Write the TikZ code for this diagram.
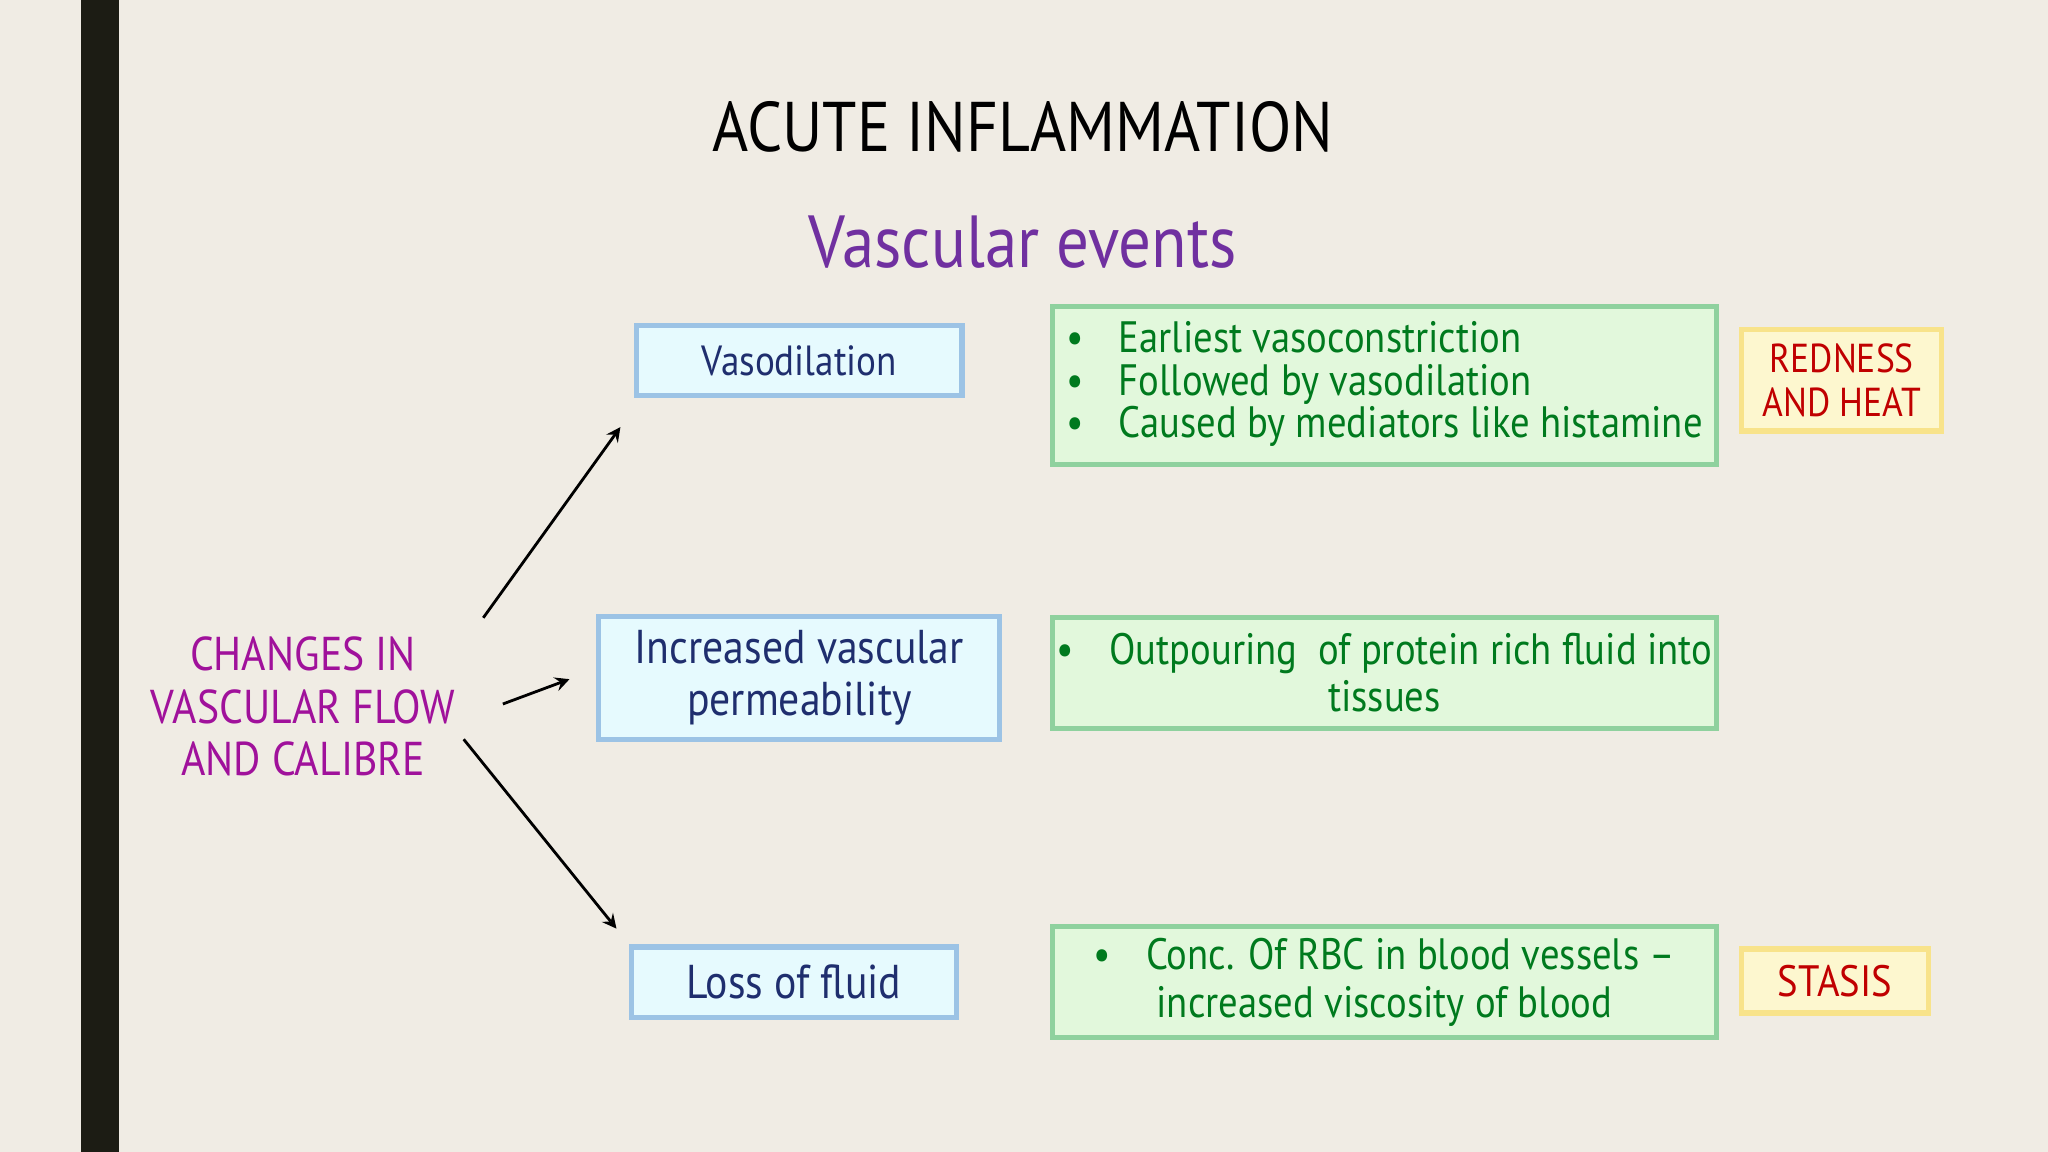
\documentclass[tikz,border=0pt]{standalone}
\usepackage{fontspec}
\setmainfont{PT Sans}[FakeStretch=0.88]
\usetikzlibrary{positioning}
\definecolor{mbg}{HTML}{F0ECE4}
\definecolor{mbar}{HTML}{1C1C14}
\definecolor{mpurp}{HTML}{7030A0}
\definecolor{mmag}{HTML}{A0119B}
\definecolor{mnavy}{HTML}{1F2E6E}
\definecolor{mbluef}{HTML}{E6FAFE}
\definecolor{mblued}{HTML}{9CC3E5}
\definecolor{mgreenf}{HTML}{E2F8DC}
\definecolor{mgreend}{HTML}{8FD19E}
\definecolor{mgreent}{HTML}{007A1E}
\definecolor{myellf}{HTML}{FDF7CF}
\definecolor{myelld}{HTML}{F8E38A}
\definecolor{mred}{HTML}{C00000}
\tikzset{
  event/.style = {rectangle, draw=mblued, line width=1.5pt, fill=mbluef, text=mnavy, align=center, inner sep=0pt},
  detail/.style = {rectangle, draw=mgreend, line width=1.5pt, fill=mgreenf, text=mgreent, align=left, inner sep=0pt, minimum width=508*0.01306cm, font=\fontsize{12.5}{13.5}\selectfont},
  sign/.style = {rectangle, draw=myelld, line width=1.5pt, fill=myellf, text=mred, align=left, inner sep=0pt, font=\fontsize{11.5}{12.5}\selectfont},
  link/.style = {thick, ->, >=stealth}
}
\begin{document}
\begin{tikzpicture}[x=0.01306cm, y=-0.01306cm]
  \fill[mbg] (0,0) rectangle (1568,882);
  \useasboundingbox (0,0) rectangle (1568,882);
  \fill[mbar] (62,0) rectangle (91,882);
  \node (title) at (783,97) {\fontsize{20}{24}\selectfont ACUTE INFLAMMATION};
  \node (sub) [text=mpurp] at (783,185) {\fontsize{21}{24}\selectfont Vascular events};
  \node (cause) [text=mmag, align=center, font=\fontsize{13.5}{15}\selectfont] at (232,541) {CHANGES IN\\VASCULAR FLOW\\AND CALIBRE};
  % middle column
  \node (vaso) [event, minimum width=249*0.01306cm, minimum height=54*0.01306cm, font=\fontsize{12}{14}\selectfont] at (612,276) {Vasodilation};
  \node (perm) [event, minimum width=307*0.01306cm, minimum height=94*0.01306cm, font=\fontsize{13.5}{15}\selectfont] at (612,519) {Increased vascular\\permeability};
  \node (loss) [event, minimum width=249*0.01306cm, minimum height=54*0.01306cm, font=\fontsize{13.5}{15}\selectfont] at (608,752) {Loss of fluid};
  % details
  \node (d1) [detail, minimum height=121*0.01306cm] at (1060,295) {\renewcommand{\arraystretch}{0.8}\begin{tabular}{@{}l@{\hspace{0.35cm}}l@{}}
    • & Earliest vasoconstriction\\ • & Followed by vasodilation\\ • & Caused by mediators like histamine\end{tabular}};
  \node (d2) [detail, minimum height=85*0.01306cm, align=center] at (1060,515) {•\hspace{0.35cm}Outpouring\ \ of protein rich fluid into\\tissues};
  \node (d3) [detail, minimum height=85*0.01306cm, align=center] at (1060,752) {•\hspace{0.35cm}Conc. Of RBC in blood vessels –\\increased viscosity of blood};
  % signs
  \node (red) [sign, minimum width=153*0.01306cm, minimum height=78*0.01306cm, align=center] at (1410,291) {REDNESS\\AND HEAT};
  \node (stasis) [sign, minimum width=143*0.01306cm, minimum height=49*0.01306cm, font=\fontsize{12.5}{14}\selectfont] at (1405,751) {STASIS};
  % arrows
  \coordinate (a1) at (370,473); \coordinate (b1) at (475,327);
  \coordinate (a2) at (385,539); \coordinate (b2) at (436,520);
  \coordinate (a3) at (355,566); \coordinate (b3) at (472,711);
  \draw [link] (a1) -- (b1);
  \draw [link] (a2) -- (b2);
  \draw [link] (a3) -- (b3);
\end{tikzpicture}
\end{document}
